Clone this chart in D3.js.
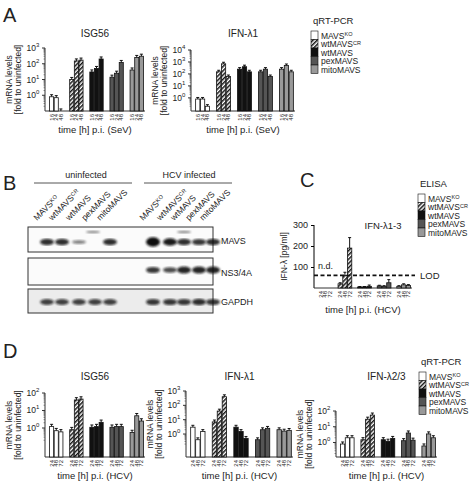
<!DOCTYPE html><html><head><meta charset="utf-8"><script src="https://cdn.jsdelivr.net/npm/d3@7"></script>
<style>body{margin:0;background:#fff}text{font-family:Arial,"Liberation Sans",sans-serif;fill:#222}</style></head><body>
<svg id="c" width="474" height="486"></svg>
<script>
const groups=["MAVS<KO>","wtMAVS<CR>","wtMAVS","pexMAVS","mitoMAVS"];
const fills=["#fff","url(#hatch)","#111","#555","#999"];
const timesSeV=["16","24","48"], timesHCV=["24","48","72"];
const aISG56=[[0.8,0.7,0.1],[10,150,170],[30,50,200],[14,25,120],[40,250,300]];
const aIFNL1=[[0.8,0.8,0.2],[150,700,60],[250,400,150],[150,250,60],[250,500,150]];
const dISG56=[[1.2,0.7,0.6],[0.8,40,45],[1.1,1.2,2.1],[1.1,1.2,1.2],[0.55,5,2.5]];
const dIFNL1=[[3,0.4,1.5],[7,40,400],[3,1.5,0.5],[0.4,2,2.5],[2,1.6,1.8]];
const dIFNL23=[[0.8,2,2],[1.5,30,55],[1.5,1.2,1.8],[1.3,4,1.4],[0.6,3.5,2]];
const cELISA=[[0,0,0],[20,60,190],[5,5,8],[10,8,25],[8,15,12]];
const cErr=[[0,0,0],[5,15,50],[2,2,6],[3,3,15],[3,5,4]];
const blotLanes=["MAVS<KO>","wtMAVS<CR>","wtMAVS","pexMAVS","mitoMAVS"];
const blotMAVS=[0.9,0.9,0.1,0,0.9, 1.6,1.1,0.9,0.8,0.9];
const blotNS3=[0,0,0,0,0, 0.8,0.6,1,1,1];
const blotGAPDH=[0.7,0.7,0.7,0.7,0.7, 0.8,0.8,0.8,0.9,0.8];

const svg=d3.select("#c");
const defs=svg.append("defs");
const p=defs.append("pattern").attr("id","hatch").attr("patternUnits","userSpaceOnUse").attr("width",3).attr("height",3).attr("patternTransform","rotate(45)");
p.append("rect").attr("width",3).attr("height",3).attr("fill","#fff");
p.append("rect").attr("width",1.5).attr("height",3).attr("fill","#111");
defs.append("filter").attr("id","blur").append("feGaussianBlur").attr("stdDeviation",1.3);

function supText(sel,s){const m=s.match(/^(.*)<(.*)>$/);if(m){sel.append("tspan").text(m[1]);sel.append("tspan").attr("dy",-2.5).attr("font-size","0.65em").text(m[2]);}else sel.text(s);}
function logTick(sel,e){sel.append("tspan").text("10");sel.append("tspan").attr("dy",-4).attr("font-size","6px").text(e);}

function barPanel(o){
  const g=svg.append("g");
  const y=d3.scaleLog().domain(o.dom).range([o.yb,o.yt]);
  const x=d3.scaleBand().domain(d3.range(5)).range([o.x0+3,o.x1]).paddingInner(0.28).paddingOuter(0.05);
  g.append("line").attr("x1",o.x0).attr("x2",o.x0).attr("y1",o.yt).attr("y2",o.yb).attr("stroke","#333");
  g.append("line").attr("x1",o.x0).attr("x2",o.x1).attr("y1",o.yb).attr("y2",o.yb).attr("stroke","#333");
  o.ticks.forEach(e=>{const yy=y(Math.pow(10,e));
    g.append("line").attr("x1",o.x0-3).attr("x2",o.x0).attr("y1",yy).attr("y2",yy).attr("stroke","#333");
    g.append("text").attr("x",o.x0-12).attr("y",yy+3).attr("font-size",8.5).attr("text-anchor","middle").call(logTick,e);
    for(let k=2;k<10;k++){const v=Math.pow(10,e-1)*k;if(v>=o.dom[0]){const ym=y(v);g.append("line").attr("x1",o.x0-1.5).attr("x2",o.x0).attr("y1",ym).attr("y2",ym).attr("stroke","#333").attr("stroke-width",0.5);}}
  });
  o.vals.forEach((gr,i)=>{const xi=d3.scaleBand().domain(d3.range(3)).range([x(i),x(i)+x.bandwidth()]).padding(0.12);
    gr.forEach((v,j)=>{const bx=xi(j),bw=xi.bandwidth(),top=y(Math.max(v,o.dom[0]));
      const et=y(Math.max(v,o.dom[0])*1.35);
      g.append("line").attr("x1",bx+bw/2).attr("x2",bx+bw/2).attr("y1",et).attr("y2",top).attr("stroke","#111");
      g.append("line").attr("x1",bx+bw/2-1.5).attr("x2",bx+bw/2+1.5).attr("y1",et).attr("y2",et).attr("stroke","#111");
      g.append("rect").attr("x",bx).attr("y",top).attr("width",bw).attr("height",o.yb-top).attr("fill",fills[i]).attr("stroke","#111").attr("stroke-width",0.8);
      g.append("text").attr("transform",`translate(${bx+bw/2+2},${o.yb+3}) rotate(-90)`).attr("text-anchor","end").attr("font-size",6).text(o.times[j]);
    });
  });
  g.append("text").attr("x",(o.x0+o.x1)/2).attr("y",o.ty).attr("text-anchor","middle").attr("font-size",10).text(o.title);
  g.append("text").attr("x",(o.x0+o.x1)/2).attr("y",o.yb+22).attr("text-anchor","middle").attr("font-size",9.5).text(o.xlab);
  const cy=(o.yt+o.yb)/2;
  g.append("text").attr("transform",`translate(${o.x0-33},${cy}) rotate(-90)`).attr("text-anchor","middle").attr("font-size",8.5).text("mRNA levels");
  g.append("text").attr("transform",`translate(${o.x0-24},${cy}) rotate(-90)`).attr("text-anchor","middle").attr("font-size",8.5).text("[fold to uninfected]");
}
function legend(x,y,title){
  const g=svg.append("g");
  g.append("text").attr("x",x+2).attr("y",y).attr("font-size",9.5).text(title);
  groups.forEach((n,i)=>{const yy=y+7+i*8.5;
    g.append("rect").attr("x",x).attr("y",yy).attr("width",7).attr("height",8.5).attr("fill",fills[i]).attr("stroke","#111").attr("stroke-width",0.6);
    g.append("text").attr("x",x+10).attr("y",yy+7.5).attr("font-size",8.5).call(supText,n);});
}
function letter(x,y,t){svg.append("text").attr("x",x).attr("y",y).attr("font-size",20).text(t);}

letter(3,22,"A");letter(3,190,"B");letter(300,187,"C");letter(3,358,"D");
barPanel({x0:45,x1:145,yt:48,yb:111,ty:37,dom:[0.1,1000],ticks:[0,1,2,3],vals:aISG56,times:timesSeV,title:"ISG56",xlab:"time [h] p.i. (SeV)"});
barPanel({x0:191,x1:295,yt:50,yb:111,ty:37,dom:[0.08,10000],ticks:[0,1,2,3,4],vals:aIFNL1,times:timesSeV,title:"IFN-λ1",xlab:"time [h] p.i. (SeV)"});
legend(311,24,"qRT-PCR");
barPanel({x0:45,x1:145,yt:393,yb:457,ty:380,dom:[0.022,100],ticks:[0,1,2],vals:dISG56,times:timesHCV,title:"ISG56",xlab:"time [h] p.i. (HCV)"});
barPanel({x0:186,x1:293,yt:391,yb:457,ty:380,dom:[0.025,1000],ticks:[0,1,2,3],vals:dIFNL1,times:timesHCV,title:"IFN-λ1",xlab:"time [h] p.i. (HCV)"});
barPanel({x0:336,x1:437,yt:411,yb:457,ty:380,dom:[0.12,100],ticks:[0,1,2],vals:dIFNL23,times:timesHCV,title:"IFN-λ2/3",xlab:"time [h] p.i. (HCV)"});
legend(419,365,"qRT-PCR");
legend(418,187,"ELISA");

// Panel C
(function(){
  const x0=314,x1=412,yt=225,yb=288;
  const g=svg.append("g");
  const y=d3.scaleLinear().domain([0,300]).range([yb,yt]);
  g.append("g").attr("transform",`translate(${x0},0)`).call(d3.axisLeft(y).tickValues([100,200,300]).tickSize(3).tickSizeOuter(0)).call(a=>{a.select(".domain").attr("d",`M0,${yt}V${yb}`);a.selectAll("text").attr("font-size",9).attr("font-family","Arial");});
  g.append("line").attr("x1",x0).attr("x2",x1).attr("y1",yb).attr("y2",yb).attr("stroke","#333");
  const x=d3.scaleBand().domain(d3.range(5)).range([x0+3,x1]).paddingInner(0.25).paddingOuter(0.05);
  cELISA.forEach((gr,i)=>{const xi=d3.scaleBand().domain(d3.range(3)).range([x(i),x(i)+x.bandwidth()]).padding(0.1);
    gr.forEach((v,j)=>{const bx=xi(j),bw=xi.bandwidth(),top=y(v),et=y(v+cErr[i][j]);
      if(v>0){g.append("line").attr("x1",bx+bw/2).attr("x2",bx+bw/2).attr("y1",et).attr("y2",top).attr("stroke","#111");
      g.append("line").attr("x1",bx+bw/2-1.5).attr("x2",bx+bw/2+1.5).attr("y1",et).attr("y2",et).attr("stroke","#111");
      g.append("rect").attr("x",bx).attr("y",top).attr("width",bw).attr("height",yb-top).attr("fill",fills[i]).attr("stroke","#111").attr("stroke-width",0.8);}
      g.append("text").attr("transform",`translate(${bx+bw/2+2},${yb+3}) rotate(-90)`).attr("text-anchor","end").attr("font-size",6).text(timesHCV[j]);});});
  g.append("line").attr("x1",x0).attr("x2",415).attr("y1",y(60)).attr("y2",y(60)).attr("stroke","#111").attr("stroke-width",1.6).attr("stroke-dasharray","4,2.5");
  g.append("text").attr("x",420).attr("y",y(60)+4).attr("font-size",9.5).text("LOD");
  g.append("text").attr("x",318).attr("y",y(90)).attr("font-size",9).text("n.d.");
  g.append("text").attr("x",383).attr("y",229).attr("text-anchor","middle").attr("font-size",9.5).text("IFN-λ1-3");
  g.append("text").attr("x",363).attr("y",yb+25).attr("text-anchor","middle").attr("font-size",9.5).text("time [h] p.i. (HCV)");
  g.append("text").attr("transform",`translate(${x0-27},${(yt+yb)/2}) rotate(-90)`).attr("text-anchor","middle").attr("font-size",8.5).text("IFN-λ [pg/ml]");
})();

// Panel B
(function(){
  const g=svg.append("g");
  const lpos=[47,62,79,95,110,153,170,184,199,213];
  g.append("text").attr("x",86).attr("y",178).attr("text-anchor","middle").attr("font-size",9).text("uninfected");
  g.append("line").attr("x1",34).attr("x2",132).attr("y1",183).attr("y2",183).attr("stroke","#555");
  g.append("text").attr("x",189).attr("y",178).attr("text-anchor","middle").attr("font-size",9).text("HCV infected");
  g.append("line").attr("x1",144).attr("x2",232).attr("y1",183).attr("y2",183).attr("stroke","#555");
  lpos.forEach((px,i)=>{g.append("text").attr("transform",`translate(${px-10},${221}) rotate(-45)`).attr("font-size",8.5).call(supText,blotLanes[i%5]);});
  const blots=[["MAVS",227,252,blotMAVS,242],["NS3/4A",258,285,blotNS3,270],["GAPDH",289,313,blotGAPDH,302]];
  blots.forEach(([name,t,b,vals,by])=>{
    g.append("rect").attr("x",28).attr("y",t).attr("width",185).attr("height",b-t).attr("fill",name==="GAPDH"?"#ececec":"#fbfbfb").attr("stroke","#333");
    vals.forEach((v,i)=>{if(v>0)g.append("ellipse").attr("cx",lpos[i]).attr("cy",by).attr("rx",7).attr("ry",1.5+2*v).attr("fill","#111").attr("opacity",Math.min(1,0.5+v*0.4)).attr("filter","url(#blur)");});
    g.append("text").attr("x",221).attr("y",(t+b)/2+4).attr("font-size",9).text(name);
  });
  [93,184].forEach(px=>g.append("ellipse").attr("cx",px).attr("cy",232).attr("rx",7).attr("ry",1).attr("fill","#777").attr("filter","url(#blur)"));
})();
</script></body></html>
